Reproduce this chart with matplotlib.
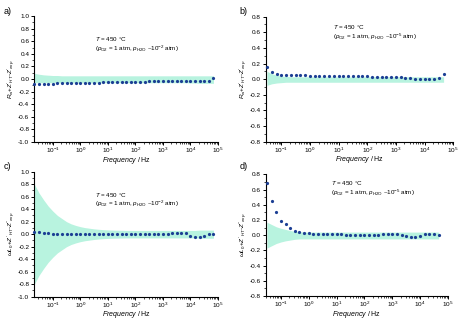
import matplotlib
matplotlib.use("Agg")
import matplotlib.pyplot as plt
from matplotlib.ticker import MultipleLocator, LogLocator, NullFormatter, FixedLocator

plt.rcParams['font.family'] = ['Liberation Sans', 'DejaVu Sans']
plt.rcParams['mathtext.fontset'] = 'custom'
plt.rcParams['mathtext.rm'] = 'Liberation Sans'
plt.rcParams['mathtext.it'] = 'Liberation Sans:italic'
plt.rcParams['mathtext.bf'] = 'Liberation Sans:bold'

# measured frequencies (Hz), 6 points per decade
freq_ac = [0.0215, 0.0316, 0.0464, 0.0681, 0.1, 0.147, 0.215, 0.316, 0.464, 0.681,
           1, 1.47, 2.15, 3.16, 4.64, 6.81, 10, 14.7, 21.5, 31.6,
           46.4, 68.1, 100, 147, 215, 316, 464, 681, 1000, 1470,
           2150, 3160, 4640, 6810, 10000, 14700, 21500, 31600, 46400, 68100]
freq_bd = freq_ac[1:39]
x_ticks = [0.1, 1, 10, 100, 1000, 10000, 100000]

# a) real part residuals, pH2O ~1e-2 atm
res_a = [-0.08, -0.08, -0.078, -0.076, -0.074, -0.072, -0.07, -0.07, -0.068, -0.066,
         -0.064, -0.062, -0.06, -0.06, -0.058, -0.056, -0.055, -0.054, -0.052, -0.05,
         -0.05, -0.048, -0.046, -0.044, -0.042, -0.038, -0.034, -0.03, -0.03, -0.03,
         -0.032, -0.034, -0.034, -0.035, -0.036, -0.038, -0.04, -0.04, -0.03, 0.02]
band_a_hi = [0.09, 0.075, 0.065, 0.06, 0.055, 0.055, 0.05, 0.05, 0.05, 0.05,
             0.05, 0.05, 0.05, 0.05, 0.05, 0.05, 0.05, 0.05, 0.05, 0.05,
             0.05, 0.05, 0.05, 0.05, 0.05, 0.05, 0.05, 0.05, 0.05, 0.05,
             0.05, 0.05, 0.05, 0.05, 0.05, 0.05, 0.05, 0.05, 0.05, 0.05]
band_a_lo = [-0.06, -0.06, -0.06, -0.06, -0.06, -0.06, -0.06, -0.06, -0.06, -0.06,
             -0.06, -0.06, -0.06, -0.06, -0.06, -0.06, -0.06, -0.06, -0.06, -0.06,
             -0.06, -0.06, -0.06, -0.06, -0.06, -0.06, -0.06, -0.06, -0.06, -0.06,
             -0.06, -0.06, -0.06, -0.06, -0.065, -0.065, -0.07, -0.07, -0.07, -0.07]

# b) real part residuals, pH2O ~1e-5 atm
res_b = [0.15, 0.09, 0.06, 0.05, 0.05, 0.05, 0.05, 0.048, 0.047, 0.046,
         0.045, 0.044, 0.043, 0.042, 0.041, 0.04, 0.04, 0.038, 0.037, 0.036,
         0.035, 0.034, 0.033, 0.032, 0.03, 0.03, 0.028, 0.026, 0.022, 0.015,
         0.01, 0.008, 0.005, 0.003, 0.0, 0.005, 0.02, 0.06]
band_b_hi = [0.1, 0.07, 0.05, 0.04, 0.035, 0.03, 0.03, 0.03, 0.03, 0.03,
             0.03, 0.03, 0.03, 0.03, 0.03, 0.03, 0.03, 0.03, 0.03, 0.03,
             0.03, 0.03, 0.03, 0.03, 0.03, 0.03, 0.03, 0.03, 0.03, 0.03,
             0.03, 0.03, 0.03, 0.03, 0.03, 0.03, 0.03, 0.03]
band_b_lo = [-0.08, -0.06, -0.05, -0.045, -0.04, -0.04, -0.04, -0.04, -0.04, -0.04,
             -0.04, -0.04, -0.04, -0.04, -0.04, -0.04, -0.04, -0.04, -0.04, -0.04,
             -0.04, -0.04, -0.04, -0.04, -0.04, -0.04, -0.04, -0.04, -0.04, -0.04,
             -0.04, -0.04, -0.04, -0.04, -0.04, -0.04, -0.04, -0.04]

# c) imaginary part residuals, pH2O ~1e-2 atm
res_c = [0.04, 0.03, 0.02, 0.015, 0.01, 0.005, 0.0, 0.0, -0.005, -0.005,
         -0.005, -0.005, 0.0, 0.0, -0.005, 0.0, 0.0, 0.0, -0.005, 0.0,
         0.0, 0.0, -0.005, 0.0, 0.0, 0.005, 0.005, 0.0, 0.005, 0.01,
         0.015, 0.02, 0.02, 0.015, -0.03, -0.05, -0.05, -0.03, 0.0, 0.01]
band_c_hi = [0.8, 0.66, 0.55, 0.45, 0.37, 0.3, 0.25, 0.2, 0.165, 0.14,
             0.12, 0.105, 0.095, 0.085, 0.078, 0.072, 0.068, 0.065, 0.063, 0.062,
             0.06, 0.06, 0.06, 0.06, 0.06, 0.06, 0.06, 0.06, 0.06, 0.06,
             0.06, 0.06, 0.06, 0.06, 0.06, 0.06, 0.065, 0.065, 0.065, 0.065]
band_c_lo = [-v for v in band_c_hi]

# d) imaginary part residuals, pH2O ~1e-5 atm
res_d = [0.69, 0.45, 0.3, 0.19, 0.145, 0.1, 0.06, 0.04, 0.03, 0.025,
         0.02, 0.02, 0.018, 0.015, 0.012, 0.01, 0.01, 0.008, 0.005, 0.005,
         0.003, 0.0, 0.0, 0.0, 0.003, 0.01, 0.018, 0.02, 0.015, 0.005,
         -0.01, -0.02, -0.02, -0.005, 0.015, 0.02, 0.02, 0.0]
band_d_hi = [0.17, 0.14, 0.11, 0.09, 0.075, 0.06, 0.05, 0.045, 0.04, 0.04,
             0.04, 0.04, 0.04, 0.04, 0.04, 0.04, 0.04, 0.04, 0.04, 0.04,
             0.04, 0.04, 0.04, 0.04, 0.04, 0.04, 0.04, 0.04, 0.04, 0.04,
             0.04, 0.04, 0.04, 0.04, 0.04, 0.04, 0.04, 0.04]
band_d_lo = [-0.17, -0.14, -0.11, -0.09, -0.075, -0.065, -0.055, -0.05, -0.05, -0.05,
             -0.05, -0.05, -0.05, -0.05, -0.05, -0.05, -0.05, -0.05, -0.05, -0.05,
             -0.05, -0.05, -0.05, -0.05, -0.05, -0.05, -0.05, -0.05, -0.05, -0.05,
             -0.05, -0.05, -0.05, -0.05, -0.05, -0.05, -0.05, -0.05]

ylab_re = r"$R_\infty$+$Z'_{HT}$-$Z'_{exp}$"
ylab_im = r"$\omega L_0$+$Z''_{HT}$-$Z''_{exp}$"
cond_2 = r"($p_{\rm O2}$ = 1 atm, $p_{\rm H2O}$ ~10$^{-2}$ atm)"
cond_5 = r"($p_{\rm O2}$ = 1 atm, $p_{\rm H2O}$ ~10$^{-5}$ atm)"

band_col = '#b8f3df'
dot_col = '#1c3f94'

fig = plt.figure(figsize=(4.74, 3.21), dpi=100)

panels = [
    # rect, freq, res, lo, hi, ylim, xmin, ylabel, cond, text pos, label, label pos
    ([0.072, 0.558, 0.388, 0.392], freq_ac, res_a, band_a_lo, band_a_hi, 1.0, 0.021,
     ylab_re, cond_2, (0.33, 0.80), 'a)', (0.008, 0.955)),
    ([0.561, 0.559, 0.395, 0.389], freq_bd, res_b, band_b_lo, band_b_hi, 0.8, 0.029,
     ylab_re, cond_5, (0.36, 0.90), 'b)', (0.505, 0.955)),
    ([0.072, 0.076, 0.388, 0.389], freq_ac, res_c, band_c_lo, band_c_hi, 1.0, 0.021,
     ylab_im, cond_2, (0.33, 0.80), 'c)', (0.008, 0.475)),
    ([0.561, 0.078, 0.384, 0.379], freq_bd, res_d, band_d_lo, band_d_hi, 0.8, 0.029,
     ylab_im, cond_5, (0.36, 0.91), 'd)', (0.505, 0.475)),
]

for rect, f, r, lo, hi, ylim, xmin, ylab, cond, tpos, lab, lpos in panels:
    ax = fig.add_axes(rect)
    ax.fill_between(f, lo, hi, color=band_col, lw=0, zorder=1)
    ax.plot(f, r, 'o', ms=2.3, color=dot_col, mec='none', zorder=3, clip_on=False)
    ax.set_xscale('log')
    ax.set_xlim(xmin, 1e5)
    ax.set_ylim(-ylim, ylim)
    ax.yaxis.set_major_locator(MultipleLocator(0.2))
    ax.yaxis.set_minor_locator(MultipleLocator(0.1))
    ax.xaxis.set_major_locator(FixedLocator(x_ticks))
    ax.xaxis.set_minor_locator(LogLocator(base=10, subs=range(2, 10), numticks=12))
    ax.xaxis.set_minor_formatter(NullFormatter())
    ax.yaxis.set_major_formatter(plt.FuncFormatter(lambda v, p: f"{v:.1f}".replace('-0.0', '0.0')))
    for s in ['top', 'right']:
        ax.spines[s].set_visible(False)
    for s in ['left', 'bottom']:
        ax.spines[s].set_linewidth(0.8)
    ax.tick_params(which='major', length=2.5, width=0.7, labelsize=4.6, pad=1)
    ax.tick_params(axis='x', which='major', pad=0.5)
    ax.tick_params(which='minor', length=1.3, width=0.5)
    ax.set_xlabel(r"$Frequency$ / Hz", fontsize=5, labelpad=-0.5)
    ax.set_ylabel(ylab, fontsize=4.6, labelpad=0.5)
    ax.text(tpos[0], tpos[1], r"$T$ = 450 °C", transform=ax.transAxes, fontsize=4.5)
    ax.text(tpos[0], tpos[1] - 0.075, cond, transform=ax.transAxes, fontsize=4.5)
    fig.text(lpos[0], lpos[1], lab, fontsize=6.5)

fig.savefig('out.png', dpi=100)
